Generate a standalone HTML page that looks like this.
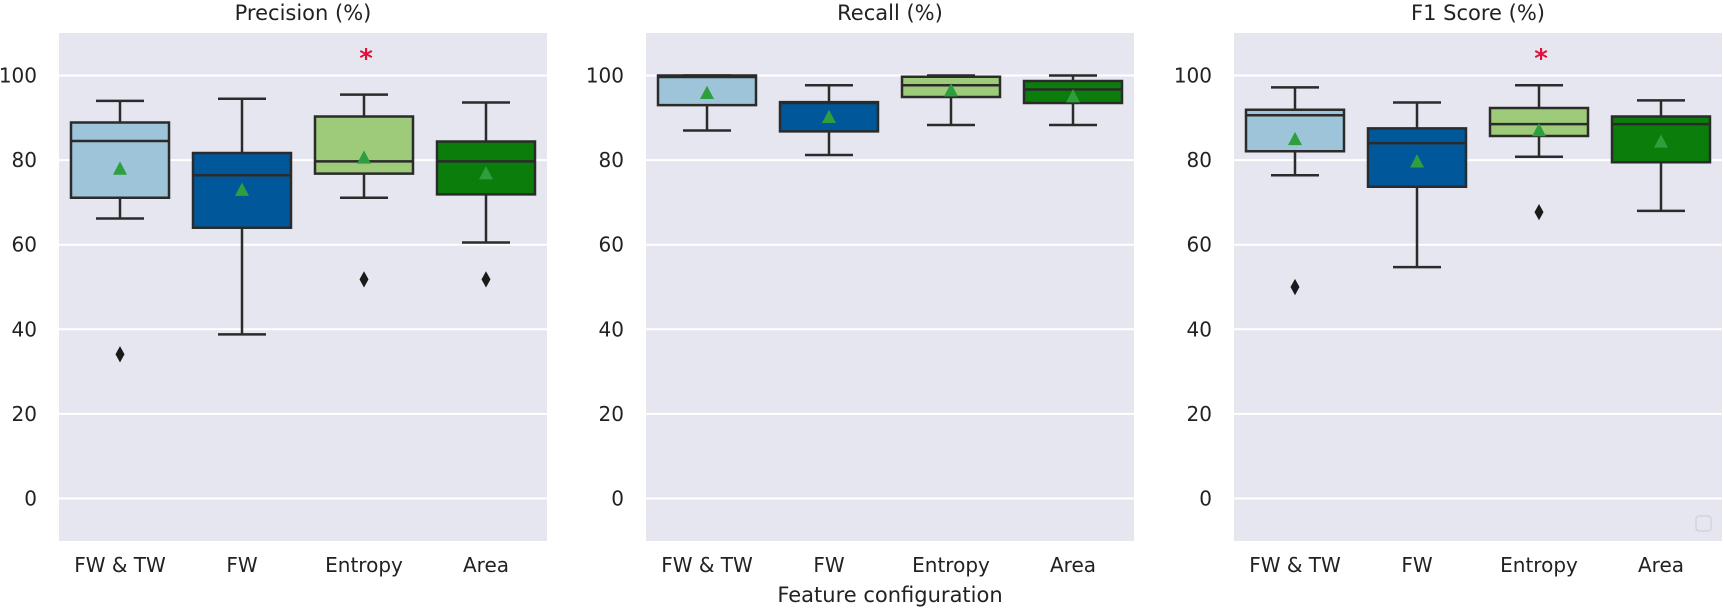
<!DOCTYPE html>
<html><head><meta charset="utf-8"><style>
html,body{margin:0;padding:0;background:#fff;}
svg{display:block;font-family:"DejaVu Sans","Liberation Sans",sans-serif;}
.bg{fill:#e6e6f0}
.g{stroke:#fff;stroke-width:2}
.w{stroke:#2b2b2b;stroke-width:2.5;fill:none;vector-effect:non-scaling-stroke}
.b{stroke:#2b2b2b;stroke-width:2.5;vector-effect:non-scaling-stroke}
.t{font-size:20px;fill:#222}
.h{font-size:21px;fill:#222}
</style></head><body>
<svg width="1724" height="611" viewBox="0 0 1724 611" xmlns="http://www.w3.org/2000/svg">
<defs>
<g id="grid">
<rect class="bg" x="0" y="33" width="488" height="508"/>
<line class="g" x1="0" x2="488" y1="498.5" y2="498.5"/>
<line class="g" x1="0" x2="488" y1="413.9" y2="413.9"/>
<line class="g" x1="0" x2="488" y1="329.3" y2="329.3"/>
<line class="g" x1="0" x2="488" y1="244.7" y2="244.7"/>
<line class="g" x1="0" x2="488" y1="160.1" y2="160.1"/>
<line class="g" x1="0" x2="488" y1="75.5" y2="75.5"/>
</g>
<g id="yt" text-anchor="end" class="t">
<text x="-22" y="505.5">0</text><text x="-22" y="420.9">20</text><text x="-22" y="336.3">40</text>
<text x="-22" y="251.7">60</text><text x="-22" y="167.1">80</text><text x="-22" y="82.5">100</text>
</g>
<g id="xt" text-anchor="middle" class="t">
<text x="61" y="572">FW &amp; TW</text><text x="183" y="572">FW</text><text x="305" y="572">Entropy</text><text x="427" y="572">Area</text>
</g>
<path id="tri" d="M0,-7 L7,6 L-7,6 Z" fill="#2e9e3e"/>
<path id="dia" d="M0,-8 L4.5,0 L0,8 L-4.5,0 Z" fill="#1a1a1a"/>
</defs>

<!-- Panel 1 -->
<g transform="translate(59,0)">
<use href="#grid"/><use href="#yt"/><use href="#xt"/>
<text class="h" x="244" y="20" text-anchor="middle">Precision (%)</text>
<text x="307" y="67" text-anchor="middle" font-size="26" font-weight="bold" fill="#e0103a">*</text>
<g transform="translate(0,-0.53) scale(1,1.02051)">
<path class="w" d="M61,99.4V120.5M37,99.4H85M61,194.3V214.6M37,214.6H85"/>
<rect class="b" x="12" y="120.5" width="98" height="73.8" fill="#9dc4d8"/>
<line class="b" x1="12" x2="110" y1="138.7" y2="138.7"/>
<use href="#tri" x="61" y="165.7"/><use href="#dia" x="61" y="347.7"/>
<path class="w" d="M183,97.3V150.4M159,97.3H207M183,223.7V328.2M159,328.2H207"/>
<rect class="b" x="134" y="150.4" width="98" height="73.3" fill="#00589a"/>
<line class="b" x1="134" x2="232" y1="172.3" y2="172.3"/>
<use href="#tri" x="183" y="186.4"/>
<path class="w" d="M305,93.2V114.7M281,93.2H329M305,170.7V194.3M281,194.3H329"/>
<rect class="b" x="256" y="114.7" width="98" height="56" fill="#9dcb79"/>
<line class="b" x1="256" x2="354" y1="158.6" y2="158.6"/>
<use href="#tri" x="305" y="154.9"/><use href="#dia" x="305" y="274.3"/>
<path class="w" d="M427,101V139.2M403,101H451M427,191V238.2M403,238.2H451"/>
<rect class="b" x="378" y="139.2" width="98" height="51.8" fill="#0a7d0a"/>
<line class="b" x1="378" x2="476" y1="158.6" y2="158.6"/>
<use href="#tri" x="427" y="170.3"/><use href="#dia" x="427" y="274.3"/>
</g>
</g>

<!-- Panel 2 -->
<g transform="translate(646,0)">
<use href="#grid"/><use href="#yt"/><use href="#xt"/>
<text class="h" x="244" y="20" text-anchor="middle">Recall (%)</text>
<text class="h" x="244" y="602" text-anchor="middle">Feature configuration</text>
<g transform="translate(0,-0.53) scale(1,1.02051)">
<path class="w" d="M61,103.5V128.4M37,128.4H85M37,74.5H85"/>
<rect class="b" x="12" y="74.5" width="98" height="29" fill="#9dc4d8"/>
<line class="b" x1="12" x2="110" y1="76" y2="76"/>
<use href="#tri" x="61" y="91.5"/>
<path class="w" d="M183,84V100.6M159,84H207M183,129.2V152.4M159,152.4H207"/>
<rect class="b" x="134" y="100.6" width="98" height="28.6" fill="#00589a"/>
<line class="b" x1="134" x2="232" y1="101.4" y2="101.4"/>
<use href="#tri" x="183" y="115.1"/>
<path class="w" d="M305,74.5V75.7M281,74.5H329M305,95.6V123M281,123H329"/>
<rect class="b" x="256" y="75.7" width="98" height="19.9" fill="#9dcb79"/>
<line class="b" x1="256" x2="354" y1="84" y2="84"/>
<use href="#tri" x="305" y="89"/>
<path class="w" d="M427,74.5V79.9M403,74.5H451M427,101.4V123M403,123H451"/>
<rect class="b" x="378" y="79.9" width="98" height="21.5" fill="#0a7d0a"/>
<line class="b" x1="378" x2="476" y1="88.2" y2="88.2"/>
<use href="#tri" x="427" y="94.8"/>
</g>
</g>

<!-- Panel 3 -->
<g transform="translate(1234,0)">
<use href="#grid"/><use href="#yt"/><use href="#xt"/>
<text class="h" x="244" y="20" text-anchor="middle">F1 Score (%)</text>
<text x="307" y="67" text-anchor="middle" font-size="26" font-weight="bold" fill="#e0103a">*</text>
<rect x="462" y="516" width="15" height="15" rx="3" fill="none" stroke="#cfcfd6" stroke-width="1.2"/>
<g transform="translate(0,-0.53) scale(1,1.02051)">
<path class="w" d="M61,86.1V108.1M37,86.1H85M61,148.7V172.3M37,172.3H85"/>
<rect class="b" x="12" y="108.1" width="98" height="40.6" fill="#9dc4d8"/>
<line class="b" x1="12" x2="110" y1="113.5" y2="113.5"/>
<use href="#tri" x="61" y="136.7"/><use href="#dia" x="61" y="281.8"/>
<path class="w" d="M183,101V126.3M159,101H207M183,183.5V262.3M159,262.3H207"/>
<rect class="b" x="134" y="126.3" width="98" height="57.2" fill="#00589a"/>
<line class="b" x1="134" x2="232" y1="140.8" y2="140.8"/>
<use href="#tri" x="183" y="158.6"/>
<path class="w" d="M305,84V106.4M281,84H329M305,133.8V154.1M281,154.1H329"/>
<rect class="b" x="256" y="106.4" width="98" height="27.4" fill="#9dcb79"/>
<line class="b" x1="256" x2="354" y1="122.2" y2="122.2"/>
<use href="#tri" x="305" y="128"/><use href="#dia" x="305" y="208.4"/>
<path class="w" d="M427,98.9V114.7M403,98.9H451M427,159.5V207.1M403,207.1H451"/>
<rect class="b" x="378" y="114.7" width="98" height="44.8" fill="#0a7d0a"/>
<line class="b" x1="378" x2="476" y1="122.2" y2="122.2"/>
<use href="#tri" x="427" y="139.2"/>
</g>
</g>
</svg>
</body></html>
